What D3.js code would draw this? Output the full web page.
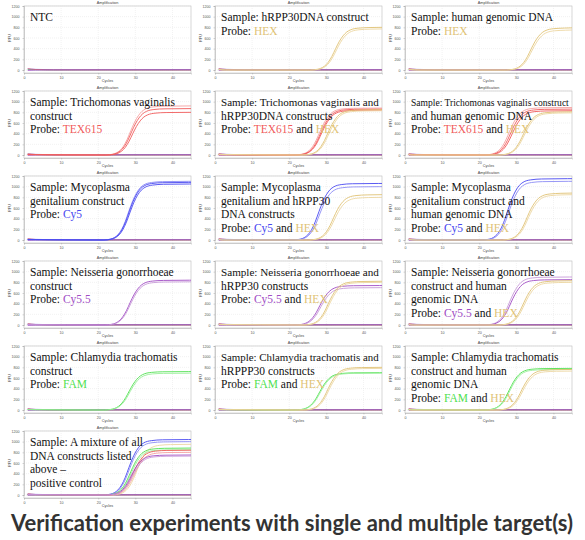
<!DOCTYPE html>
<html><head><meta charset="utf-8">
<script src="https://cdn.jsdelivr.net/npm/d3@7"></script>
<style>body{margin:0;background:#fff}</style>
</head><body>
<svg id="c" width="585" height="540"></svg>
<script>
// ---- data ----
const xTicks = [0,10,20,30,40];
const yTicks = [0,200,400,600,800,1000,1200];
// curve shape: offset from Ct (cycles) and fraction of plateau
const shapeOffsets  = [-30,-7,-5,-4,-3,-2,-1,0,1,2,3,4,6,9,16];
const shapeFraction = [0,0,0.015,0.04,0.09,0.18,0.32,0.5,0.67,0.8,0.89,0.94,0.98,0.995,1];
const colors = {HEX:"#e0c274",HEX2:"#ecd6a0",TEX:"#f05a5a",TEX2:"#f5a0a0",Cy5:"#4848f0",Cy52:"#8c8cf5",Cy55:"#a04cc4",Cy552:"#c79ad8",FAM:"#4fe04f",FAM2:"#9aee9a"};
// panel texts: lines of [text, colorKey]
const panelTexts = [
 [[["NTC",null]]],
 [[["Sample: hRPP30DNA construct",null]],[["Probe: ",null],["HEX","HEX"]]],
 [[["Sample: human genomic DNA",null]],[["Probe: ",null],["HEX","HEX"]]],
 [[["Sample: Trichomonas vaginalis",null]],[["construct",null]],[["Probe: ",null],["TEX615","TEX"]]],
 [[["Sample: Trichomonas vaginalis and",null]],[["hRPP30DNA constructs",null]],[["Probe: ",null],["TEX615","TEX"],[" and ",null],["HEX","HEX"]]],
 [[["Sample: Trichomonas vaginalis construct",null]],[["and human genomic DNA",null]],[["Probe: ",null],["TEX615","TEX"],[" and ",null],["HEX","HEX"]]],
 [[["Sample: Mycoplasma",null]],[["genitalium construct",null]],[["Probe: ",null],["Cy5","Cy5"]]],
 [[["Sample: Mycoplasma",null]],[["genitalium and hRPP30",null]],[["DNA constructs",null]],[["Probe: ",null],["Cy5","Cy5"],[" and ",null],["HEX","HEX"]]],
 [[["Sample: Mycoplasma",null]],[["genitalium construct and",null]],[["human genomic DNA",null]],[["Probe: ",null],["Cy5","Cy5"],[" and ",null],["HEX","HEX"]]],
 [[["Sample: Neisseria gonorrhoeae",null]],[["construct",null]],[["Probe: ",null],["Cy5.5","Cy55"]]],
 [[["Sample: Neisseria gonorrhoeae and",null]],[["hRPP30 constructs",null]],[["Probe: ",null],["Cy5.5","Cy55"],[" and ",null],["HEX","HEX"]]],
 [[["Sample: Neisseria gonorrhoeae",null]],[["construct and human",null]],[["genomic DNA",null]],[["Probe: ",null],["Cy5.5","Cy55"],[" and ",null],["HEX","HEX"]]],
 [[["Sample: Chlamydia trachomatis",null]],[["construct",null]],[["Probe: ",null],["FAM","FAM"]]],
 [[["Sample: Chlamydia trachomatis and",null]],[["hRPPP30 constructs",null]],[["Probe: ",null],["FAM","FAM"],[" and ",null],["HEX","HEX"]]],
 [[["Sample: Chlamydia trachomatis",null]],[["construct and human",null]],[["genomic DNA",null]],[["Probe: ",null],["FAM","FAM"],[" and ",null],["HEX","HEX"]]],
 [[["Sample: A mixture of all",null]],[["DNA constructs  listed",null]],[["above –",null]],[["positive control",null]]]
];
// amplified curves per panel: [colorKey, Ct, plateau]
const panelCurves = [
 [],
 [["HEX",32.5,800],["HEX2",32.8,770]],
 [["HEX",34,790],["HEX2",34.3,750]],
 [["TEX2",28.8,920],["TEX",29,870],["TEX",29.3,800]],
 [["TEX2",28.3,880],["TEX",28.6,860],["TEX",28.8,840],["HEX",30.5,850],["HEX2",30.8,830]],
 [["TEX2",28.2,890],["TEX",28.6,860],["TEX",29,830],["HEX",32,810],["HEX2",32.3,790]],
 [["Cy52",28.3,1100],["Cy5",28.4,1080],["Cy5",28.6,1050]],
 [["Cy5",28,1060],["Cy52",28.3,1000],["HEX",32,850],["HEX2",32.3,800]],
 [["Cy5",27.8,1150],["Cy52",28.1,1100],["HEX",33,880],["HEX2",33.3,850]],
 [["Cy55",28.6,840],["Cy552",28.8,810]],
 [["Cy55",28.3,740],["Cy552",28.6,700],["HEX",30.6,820],["HEX2",30.9,800]],
 [["Cy552",28.3,900],["Cy55",28.6,850],["HEX",32,830],["HEX2",32.3,800]],
 [["FAM",28.4,720],["FAM2",28.6,690]],
 [["FAM",28.3,700],["FAM2",28.5,690],["HEX",30.5,800],["HEX2",30.8,780]],
 [["FAM",28.2,780],["FAM2",28.4,760],["HEX",31.5,760],["HEX2",31.8,730]],
 [["Cy5",28.3,1040],["Cy52",28.5,1000],["HEX2",30.5,950],["FAM",28.8,880],["FAM2",29,850],["TEX",29.5,840],["TEX2",29.8,800],["Cy55",29,750],["Cy552",29.3,730]]
];
// flat baseline traces (RFU at cycles)
const baseCycles = [1,3,8,45];
const baselines = [
 ["FAM",[10,5,0,2]],["Cy5",[20,12,5,3]],["TEX",[25,10,2,0]],["Cy55",[-10,-5,0,5]]
];

// ---- layout ----
const svg = d3.select("#c");
const colX = [0,191,381], rowY = [0,85,170,255,340,425];
const x = d3.scaleLinear().domain([0,45]).range([24,191]);
const y = d3.scaleLinear().domain([0,1200]).range([70,6]);
const line = d3.line().x(d=>x(d[0])).y(d=>y(d[1])).curve(d3.curveMonotoneX);

panelTexts.forEach((txt,i)=>{
  const g = svg.append("g").attr("transform",`translate(${colX[i%3]},${rowY[Math.floor(i/3)]})`);
  g.append("rect").attr("x",x(0)).attr("y",y(1200)).attr("width",x(45)-x(0)).attr("height",y(0)-y(1200)+3)
    .attr("fill","#fff").attr("stroke","#bbb").attr("stroke-width",0.6);
  xTicks.forEach(t=>g.append("line").attr("x1",x(t)).attr("x2",x(t)).attr("y1",y(1200)).attr("y2",y(0)+3).attr("stroke","#e2e2e2").attr("stroke-width",0.5).attr("stroke-dasharray","1,1"));
  yTicks.forEach(t=>g.append("line").attr("x1",x(0)).attr("x2",x(45)).attr("y1",y(t)).attr("y2",y(t)).attr("stroke","#e2e2e2").attr("stroke-width",0.5).attr("stroke-dasharray","1,1"));
  const ax = g.append("g").attr("transform",`translate(0,${y(0)+3})`).call(d3.axisBottom(x).tickValues(xTicks).tickSize(1.5));
  const ay = g.append("g").attr("transform",`translate(${x(0)},0)`).call(d3.axisLeft(y).tickValues(yTicks).tickSize(1.5).tickFormat(d3.format("d")));
  [ax,ay].forEach(a=>{a.selectAll("text").attr("font-size",3.6).attr("fill","#555").attr("font-family","Liberation Sans");a.selectAll("path,line").attr("stroke","#999").attr("stroke-width",0.4);});
  ax.selectAll("text").attr("dy","0.5em");
  g.append("text").attr("x",(x(0)+x(45))/2).attr("y",y(0)+12).attr("text-anchor","middle").attr("font-size",3.8).attr("font-family","Liberation Sans").attr("fill","#444").text("Cycles");
  g.append("text").attr("x",(x(0)+x(45))/2).attr("y",3.5).attr("text-anchor","middle").attr("font-size",3.8).attr("font-family","Liberation Sans").attr("fill","#444").text("Amplification");
  g.append("text").attr("transform",`translate(${x(0)-13},${y(600)}) rotate(-90)`).attr("text-anchor","middle").attr("font-size",3.8).attr("font-family","Liberation Sans").attr("fill","#444").text("RFU");
  baselines.forEach(([c,v])=>g.append("path").datum(baseCycles.map((cy,k)=>[cy,v[k]])).attr("d",line).attr("fill","none").attr("stroke",colors[c]).attr("stroke-width",0.7));
  panelCurves[i].forEach(([c,ct,p])=>{
    const pts = shapeOffsets.map((o,k)=>[ct+o,shapeFraction[k]*p]).filter(d=>d[0]>=1 && d[0]<45);
    pts.unshift([1,8]); pts.push([45,p]);
    g.append("path").datum(pts).attr("d",line).attr("fill","none").attr("stroke",colors[c]).attr("stroke-width",0.9);
  });
  txt.forEach((ln,k)=>{
    const t = g.append("text").attr("x",30).attr("y",21+k*13.5).attr("font-family","Liberation Serif").attr("font-size",11.5).attr("fill","#111");
    ln.forEach(([s,c])=>t.append("tspan").attr("fill",c?colors[c]:"#111").text(s));
    const w = t.node().getComputedTextLength();
    if (w > 158) t.attr("font-size", 11.5*158/w);
  });
});
svg.append("text").attr("x",292).attr("y",531).attr("text-anchor","middle").attr("font-family","Lato").attr("font-weight","bold").attr("font-size",22).attr("fill","#333").text("Verification experiments with single and multiple target(s)");
</script>
</body></html>
